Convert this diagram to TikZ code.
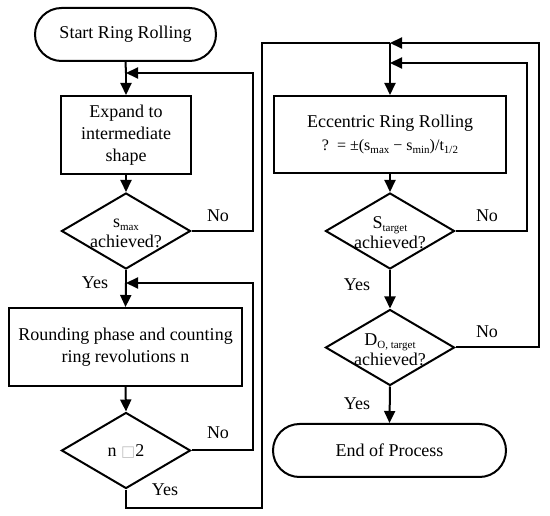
\documentclass[tikz,border=0pt]{standalone}
\usepackage{fontspec}
\setmainfont{Liberation Serif}
\newfontfamily\symfont{DejaVu Sans}
\usetikzlibrary{shapes.geometric,arrows.meta}
\newcommand\mysub[1]{\raisebox{-0.35ex}{\fontsize{11}{11}\selectfont #1}}
\begin{document}
\begin{tikzpicture}[x=1pt,y=-1pt,
  line width=2pt,
  every node/.style={font=\fontsize{18}{22}\selectfont},
  proc/.style={draw, rectangle, minimum height=78pt, inner sep=0pt, align=center},
  term/.style={draw, rounded corners=26.5pt, minimum height=53pt, inner sep=0pt},
  dia/.style={draw, diamond, minimum width=129pt, minimum height=76pt, inner sep=0pt},
  lbl/.style={inner sep=0pt, align=center, font=\fontsize{18}{20}\selectfont},
  arr/.style={-{Triangle[length=12pt,width=11pt]}},
]
\useasboundingbox (0,0) rectangle (550,516);

% nodes
\node[term, minimum width=181pt] (start) at (125.5,34.5) {Start Ring Rolling};
\node[proc, minimum width=130pt] (expand) at (126,135) {Expand to\\intermediate\\shape};
\node[dia] (d1) at (126,231) {};
\node[lbl] (d1t) at (126,233) {s\mysub{max}\\achieved?};
\node[proc, minimum width=233pt] (round) at (125.5,347) {Rounding phase and counting\\ring revolutions n};
\node[dia] (d2) at (126,450.5) {};
\node[lbl] (d2t) at (126,451) {n {\symfont\color{gray!50}\fontsize{15}{15}\selectfont □}2};

\node[proc, minimum width=232pt, minimum height=77pt] (ecc) at (390,134.5) {Eccentric Ring Rolling\\[1pt]{\fontsize{16}{18}\selectfont ?\, = ±(s\mysub{max} − s\mysub{min})/t\mysub{1/2}}};
\node[dia] (d3) at (390,231) {};
\node[lbl] (d3t) at (390,233) {S\mysub{target}\\achieved?};
\node[dia] (d4) at (390,347.5) {};
\node[lbl] (d4t) at (390,350) {D\mysub{O, target}\\achieved?};
\node[term, minimum width=233pt] (end) at (389.5,450.5) {End of Process};

% labels
\node[lbl] (no1) at (218,216) {No};
\node[lbl] (yes1) at (95,283) {Yes};
\node[lbl] (no2) at (218,433) {No};
\node[lbl] (yes2) at (165,490) {Yes};
\node[lbl] (no3) at (487,216) {No};
\node[lbl] (yes3) at (357,285) {Yes};
\node[lbl] (no4) at (487,332) {No};
\node[lbl] (yes4) at (357,404) {Yes};

% junctions
\coordinate (m1) at (126,73);
\coordinate (m2) at (126,283);
\coordinate (m3) at (390,43);
\coordinate (m4) at (390,63);
\coordinate (c1) at (262,508);
\coordinate (c2) at (262,43);

% connectors
\draw (start.south) -- (m1);
\draw[arr] (m1) -- (expand.north);
\draw[arr] (expand.south) -- (d1.north);
\draw[arr] (d1.east) -- ++(61,0) |- (m1);
\draw (d1.south) -- (m2);
\draw[arr] (m2) -- (round.north);
\draw[arr] (round.south) -- (d2.north);
\draw[arr] (d2.east) -- ++(61,0) |- (m2);
\draw (d2.south) |- (c1) -- (c2) -- (m3);
\draw[arr] (m3) -- (ecc.north);
\draw[arr] (ecc.south) -- (d3.north);
\draw[arr] (d3.east) -- ++(71.5,0) |- (m4);
\draw[arr] (d3.south) -- (d4.north);
\draw[arr] (d4.east) -- ++(83.5,0) |- (m3);
\draw[arr] (d4.south) -- (end.north);
\end{tikzpicture}
\end{document}
